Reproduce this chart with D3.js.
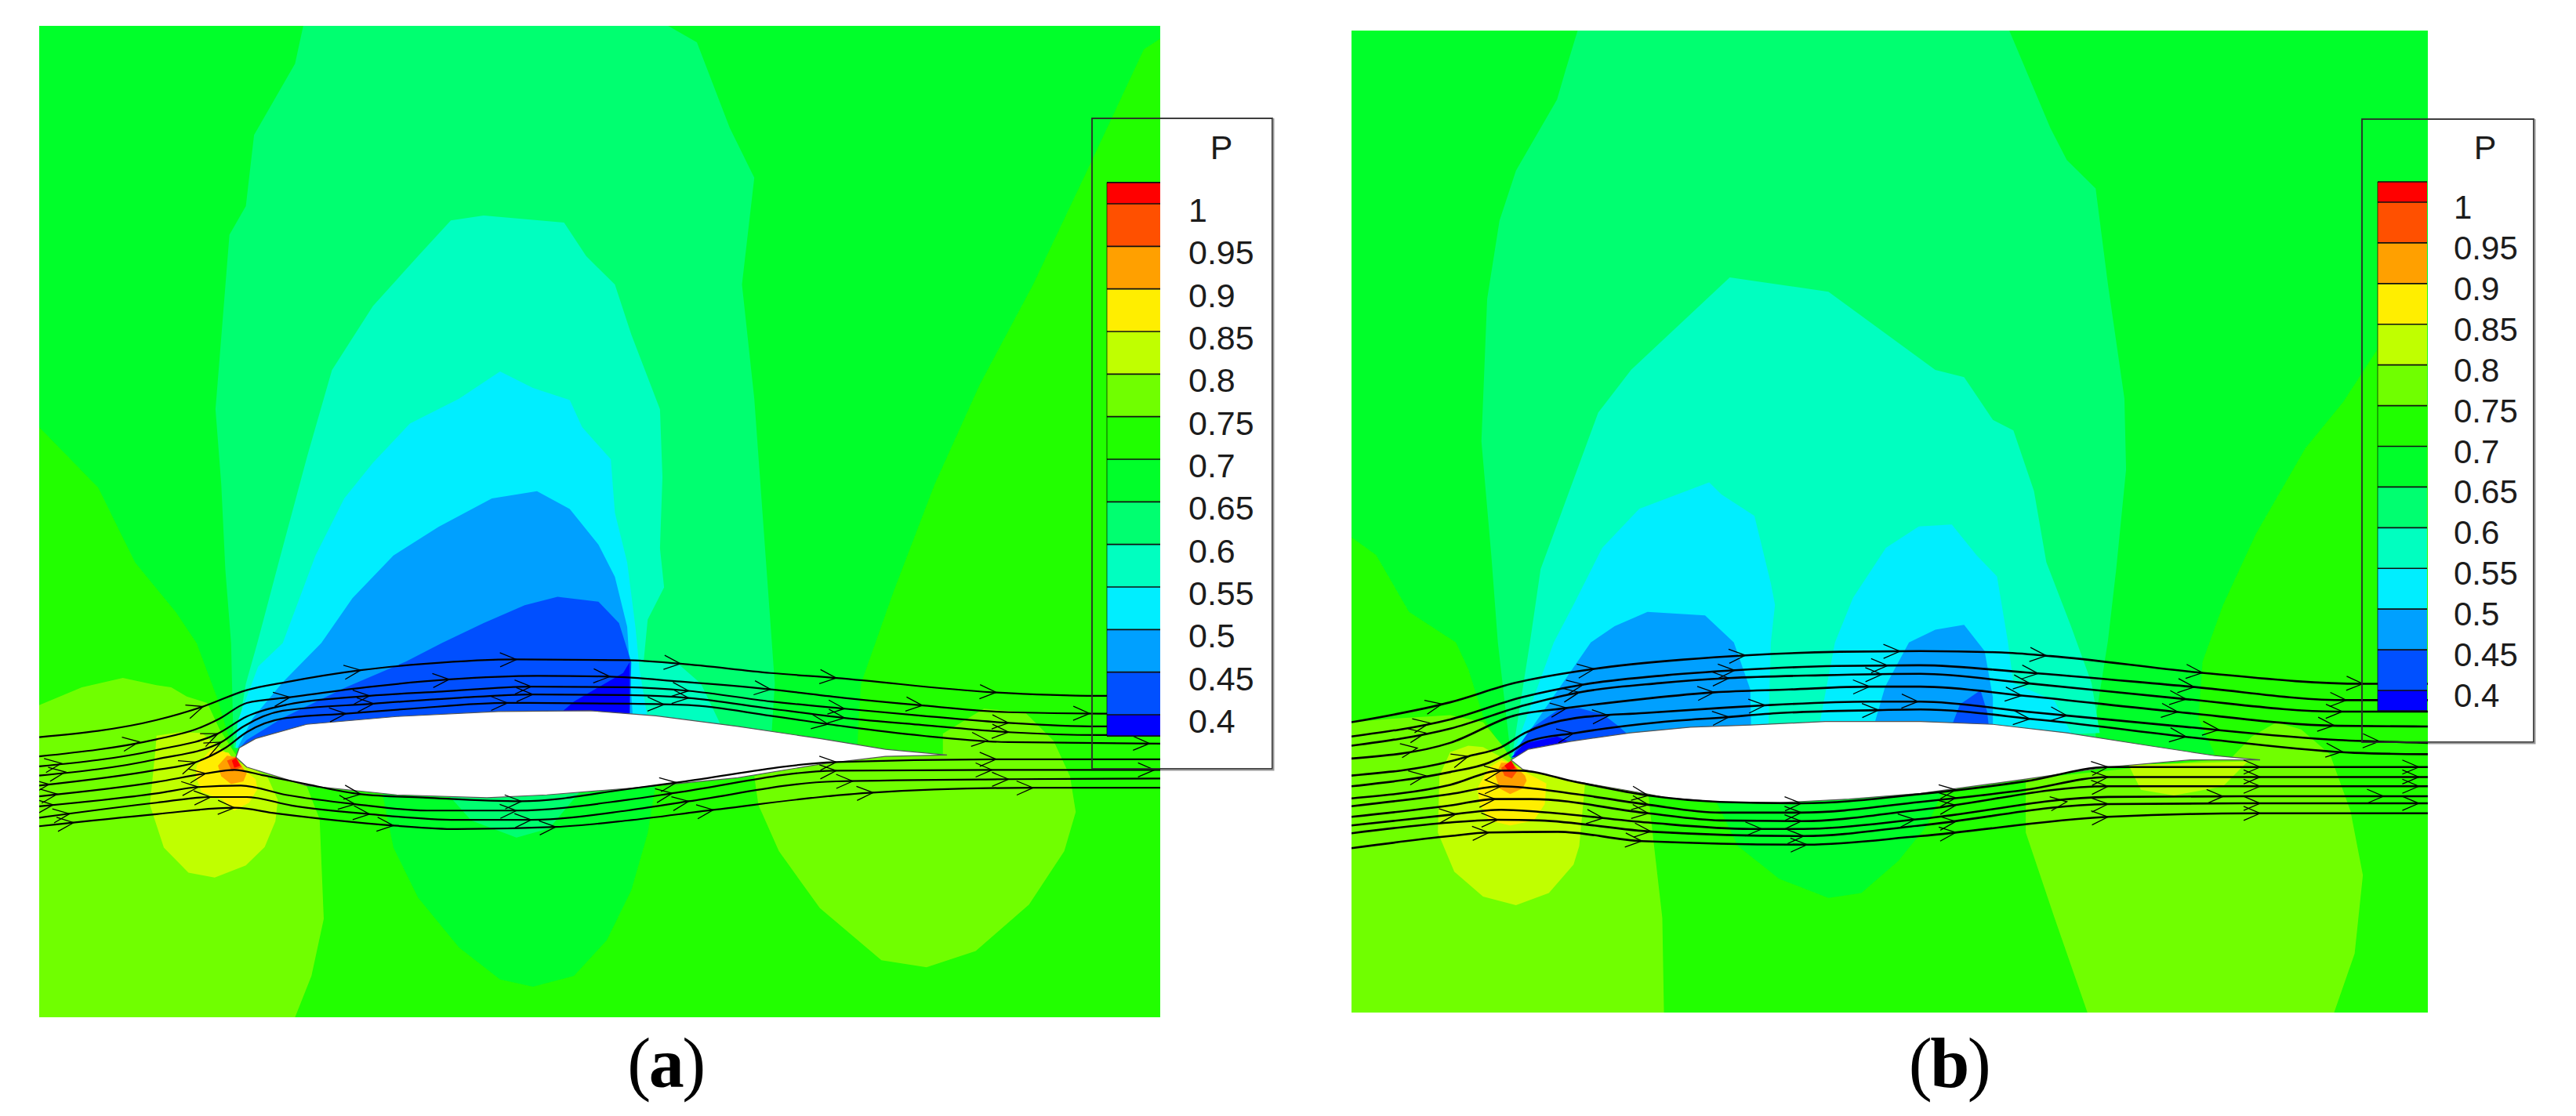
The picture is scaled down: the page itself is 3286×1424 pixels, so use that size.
<!DOCTYPE html>
<html lang="en">
<head>
  <meta charset="UTF-8">
  <title>Pressure contours and streamlines</title>
  <style>
    html, body { margin: 0; padding: 0; background: #fff; }
    svg { display: block; }
    .legend-text { font-family: "Liberation Sans", Arial, sans-serif; fill: #1c1c1c; }
    .caption { font-family: "Liberation Serif", "Times New Roman", serif; fill: #000; letter-spacing: -2.5px; }
  </style>
</head>
<body>
  <div id="chart"></div>
  <script src="https://d3js.org/d3.v7.min.js"></script>
  <script>
    // pressure levels on the legend and the colour of the band below each one
    const levels = [0.4, 0.45, 0.5, 0.55, 0.6, 0.65, 0.7, 0.75, 0.8, 0.85, 0.9, 0.95, 1];
    const levelLabels = ["0.4", "0.45", "0.5", "0.55", "0.6", "0.65", "0.7", "0.75", "0.8", "0.85", "0.9", "0.95", "1"];
    const bandColors = ["#0000ff", "#0050ff", "#00a0ff", "#00eeff", "#00ffc0", "#00ff70", "#00ff2a",
                        "#20ff00", "#70ff00", "#c0ff00", "#ffee00", "#ffa000", "#ff5000", "#ff0000"];
    const legendEnds = [0.375, 1.025];

    // contour regions, painted in this order: [pressure, [x, y], ...]
    // x and y are in the plot units of each panel (see panels below)
    const contoursA = [
      [0.675, [48,37],[48,600],[120,685],[165,790],[215,860],[240,903],[265,980],[283,1050],[300,1070],[1045,1060],[1050,960],[1090,830],[1140,680],[1195,540],[1260,400],[1330,230],[1395,70],[1415,55],[1415,37]],
      [0.675, [465,1105],[480,1190],[510,1260],[560,1330],[610,1375],[650,1385],[700,1370],[740,1320],[770,1250],[790,1170],[800,1100]],
      [0.625, [370,37],[360,90],[310,190],[300,290],[280,330],[263,575],[270,680],[275,800],[282,903],[285,1050],[940,1050],[945,960],[935,800],[920,560],[905,400],[920,250],[890,180],[850,60],[815,37]],
      [0.625, [546,1115],[575,1152],[630,1176],[670,1163],[707,1112]],
      [0.575, [287,1050],[300,960],[314,903],[340,790],[375,640],[405,520],[455,430],[510,360],[550,310],[590,303],[688,313],[715,360],[750,400],[770,470],[805,575],[808,670],[805,770],[810,825],[790,870],[785,930],[825,930],[855,960],[880,1020],[700,1040]],
      [0.525, [288,1050],[290,1013],[315,936],[345,903],[385,780],[420,700],[455,650],[500,595],[560,560],[610,522],[650,545],[695,562],[710,600],[745,645],[750,720],[765,790],[775,880],[780,940],[790,1010],[700,1040]],
      [0.475, [290,1050],[308,1009],[345,958],[392,903],[430,840],[480,780],[535,740],[600,700],[655,690],[695,715],[730,765],[750,810],[765,880],[772,1010],[700,1040]],
      [0.425, [291,1052],[301,1039],[345,1008],[422,965],[495,929],[539,903],[590,875],[640,850],[680,838],[730,845],[755,875],[770,930],[768,1010],[500,1040]],
      [0.39, [680,1005],[700,985],[760,945],[768,930],[768,1005]],
      [0.775, [48,990],[100,965],[150,952],[191,962],[209,965],[228,978],[253,987],[268,1024],[286,1057],[301,1077],[374,1103],[390,1150],[395,1290],[380,1370],[360,1428],[48,1428]],
      [0.775, [920,1090],[1020,1065],[1150,1060],[1150,1030],[1200,995],[1250,1000],[1285,1040],[1305,1090],[1312,1140],[1298,1195],[1255,1270],[1190,1335],[1130,1358],[1075,1348],[1000,1275],[950,1195],[925,1130]],
      [0.825, [190,1050],[191,1033],[220,1028],[246,1029],[264,1046],[288,1068],[326,1090],[339,1123],[336,1153],[323,1189],[300,1215],[262,1232],[230,1225],[200,1190],[183,1130]],
      [0.875, [240,1075],[257,1053],[279,1057],[288,1072],[312,1094],[314,1108],[304,1127],[286,1138],[272,1123],[246,1112],[239,1090]],
      [0.925, [266,1075],[277,1061],[288,1063],[301,1086],[297,1097],[282,1101],[270,1090]],
      [0.975, [277,1068],[288,1063],[295,1077],[283,1083]],
      [1.01, [283,1068],[288,1064],[293,1075],[286,1078]]
    ];
    const contoursB = [
      [0.675, [80,43],[80,755],[110,780],[150,860],[207,903],[222,940],[240,1006],[262,1050],[275,1068],[1130,1060],[1110,1010],[1115,930],[1140,850],[1180,750],[1240,630],[1286,565],[1327,492],[1389,400],[1389,43]],
      [0.675, [521,1120],[550,1189],[600,1235],[660,1262],[700,1255],[745,1210],[780,1160],[800,1110]],
      [0.625, [355,43],[340,100],[330,140],[280,240],[260,310],[245,420],[238,620],[250,780],[258,903],[274,1065],[985,1040],[985,1010],[1000,900],[1010,800],[1022,660],[1020,560],[1000,400],[985,265],[950,225],[930,180],[880,43]],
      [0.575, [275,1065],[297,903],[310,800],[380,580],[420,520],[540,390],[660,410],[790,520],[825,530],[860,590],[885,605],[910,690],[925,790],[955,880],[980,960],[990,1030]],
      [0.525, [276,1062],[326,903],[350,850],[385,770],[430,715],[515,678],[530,695],[570,725],[590,820],[595,850],[590,903],[587,1025]],
      [0.525, [648,1025],[668,903],[690,840],[730,770],[770,740],[810,737],[840,780],[865,810],[878,900],[885,960],[935,985],[955,1030]],
      [0.475, [277,1060],[371,903],[400,880],[440,860],[510,865],[545,903],[565,969],[566,1025]],
      [0.475, [714,1025],[729,965],[758,903],[790,885],[825,878],[850,915],[860,980],[860,1025]],
      [0.425, [277,1059],[298,1024],[331,998],[357,995],[386,1004],[404,1020],[419,1035]],
      [0.425, [810,1020],[820,990],[845,970],[853,1000],[855,1020]],
      [0.39, [274,1065],[290,1045],[330,1035],[350,1045]],
      [0.775, [80,1015],[130,1010],[200,1005],[240,1015],[265,1050],[275,1068],[346,1097],[441,1116],[448,1189],[458,1290],[460,1423],[80,1423]],
      [0.775, [900,1095],[900,1170],[935,1290],[975,1423],[1275,1423],[1300,1340],[1310,1230],[1295,1140],[1270,1060],[1235,1025],[1205,1015],[1175,1035],[1150,1065]],
      [0.825, [187,1090],[200,1057],[222,1048],[240,1050],[262,1064],[277,1075],[364,1101],[357,1189],[350,1215],[320,1255],[280,1272],[240,1260],[205,1225],[185,1170]],
      [0.825, [1025,1075],[1040,1110],[1080,1118],[1140,1105],[1170,1070]],
      [0.875, [233,1108],[247,1079],[262,1068],[277,1075],[288,1083],[317,1101],[315,1130],[302,1153],[273,1160],[247,1153],[236,1130]],
      [0.925, [255,1090],[262,1072],[275,1072],[291,1090],[293,1097],[288,1108],[273,1116],[260,1108]],
      [0.975, [262,1079],[275,1070],[282,1083],[275,1094],[266,1090]],
      [1.01, [266,1076],[274,1069],[279,1080],[270,1082]]
    ];

    // airfoil outlines
    const airfoilA = [[288,1063],[292,1050],[312,1037],[374,1017],[484,1006],[608,999],[720,998],[800,1005],[900,1020],[1000,1037],[1080,1052],[1155,1060],
                      [1080,1062],[1000,1073],[900,1092],[765,1107],[667,1116],[594,1120],[484,1116],[374,1103],[301,1077]];
    const airfoilB = [[274,1068],[295,1053],[346,1042],[419,1030],[492,1022],[565,1019],[656,1014],[772,1014],[860,1018],[950,1030],[1050,1048],[1130,1062],[1185,1068],
                      [1100,1068],[1000,1078],[900,1095],[772,1115],[685,1123],[601,1128],[528,1127],[462,1121],[441,1116],[346,1097],[288,1081]];

    // streamlines
    const streamA = [
      [[48,1035],[191,1011],[248,992],[301,969],[348,958],[440,941],[520,932],[630,926],[765,927],[830,932],[940,945],[1020,952],[1210,972],[1340,977],[1415,977]],
      [[48,1062],[191,1038],[239,1024],[268,1009],[301,987],[354,979],[447,965],[548,954],[656,949],[744,950],[830,957],[940,968],[1030,980],[1120,990],[1230,1000],[1340,1002],[1415,1002]],
      [[48,1076],[191,1053],[266,1030],[301,1006],[352,989],[451,977],[539,971],[648,964],[765,965],[840,970],[940,985],[1030,995],[1125,1005],[1230,1015],[1340,1020],[1415,1020]],
      [[48,1089],[191,1066],[270,1042],[297,1020],[345,998],[456,988],[557,980],[650,975],[765,976],[840,980],[940,995],[1030,1008],[1125,1018],[1230,1028],[1340,1032],[1415,1032]],
      [[48,1103],[191,1081],[239,1070],[275,1050],[301,1028],[345,1009],[422,1002],[502,995],[619,987],[765,988],[840,990],[940,1005],[1030,1020],[1125,1033],[1230,1042],[1415,1044]],
      [[48,1118],[191,1098],[251,1086],[286,1081],[319,1088],[374,1101],[440,1115],[520,1120],[636,1125],[765,1108],[830,1098],[1020,1070],[1210,1066],[1415,1066]],
      [[48,1132],[191,1114],[242,1105],[294,1103],[349,1116],[433,1129],[521,1138],[630,1138],[765,1123],[830,1112],[1020,1082],[1210,1081],[1415,1081]],
      [[48,1148],[191,1127],[257,1119],[301,1119],[356,1131],[451,1143],[557,1151],[648,1151],[765,1138],[840,1125],[1020,1097],[1230,1094],[1415,1093]],
      [[48,1160],[191,1143],[286,1134],[337,1142],[480,1159],[557,1164],[678,1161],[765,1152],[870,1137],[1060,1113],[1260,1106],[1415,1106]]
    ];
    const arrowsA = [
      [248,440,630,830,1020,1215],
      [170,354,548,744,940,1125,1329],
      [75,266,451,648,840,1030,1230],
      [80,270,456,650,840,1030,1230],
      [60,239,422,619,810,1010,1205,1402],
      [70,251,440,636,825,1020,1215],
      [65,242,433,630,820,1020,1210,1408],
      [85,257,451,648,840,1040,1230],
      [90,286,480,678,870,1065,1260]
    ];
    const streamB = [
      [[80,1015],[200,987],[278,960],[375,940],[484,927],[559,921],[674,916],[772,915],[870,917],[930,922],[1110,945],[1310,961],[1389,961]],
      [[80,1035],[200,1011],[287,980],[362,962],[462,949],[546,942],[670,936],[772,935],[900,945],[1100,965],[1290,984],[1389,984]],
      [[80,1048],[200,1024],[291,991],[357,973],[455,960],[539,953],[652,949],[772,947],[900,960],[1090,982],[1280,1000],[1389,1000]],
      [[80,1066],[200,1044],[277,1006],[342,995],[437,982],[521,973],[612,969],[710,965],[772,965],[900,978],[1080,1000],[1280,1020],[1389,1021]],
      [[80,1090],[200,1070],[222,1063],[262,1050],[291,1030],[353,1009],[437,1002],[528,995],[586,991],[710,986],[772,986],[900,1000],[1080,1020],[1280,1040],[1389,1044]],
      [[80,1105],[200,1085],[247,1072],[273,1057],[295,1042],[353,1030],[455,1015],[535,1008],[601,1002],[721,998],[772,997],[920,1012],[1130,1040],[1300,1058],[1389,1060]],
      [[80,1122],[200,1103],[262,1083],[284,1083],[353,1099],[441,1118],[528,1127],[627,1129],[772,1116],[900,1098],[1000,1078],[1180,1078],[1389,1078]],
      [[80,1133],[200,1116],[262,1105],[353,1116],[441,1131],[528,1142],[627,1142],[772,1127],[900,1110],[1000,1092],[1180,1092],[1389,1092]],
      [[80,1148],[200,1132],[255,1123],[298,1123],[441,1143],[528,1153],[627,1154],[772,1138],[1000,1105],[1180,1105],[1389,1105]],
      [[80,1160],[200,1145],[262,1138],[309,1141],[441,1156],[565,1165],[630,1165],[772,1151],[1000,1120],[1180,1119],[1389,1119]],
      [[80,1171],[200,1156],[258,1152],[309,1153],[448,1169],[630,1175],[772,1160],[1000,1130],[1180,1129],[1389,1129]],
      [[80,1192],[200,1175],[247,1170],[331,1169],[433,1182],[634,1187],[772,1175],[1000,1148],[1180,1143],[1389,1143]]
    ];
    const arrowsB = [
      [190,375,559,747,925,1115,1310],
      [175,362,546,732,915,1105,1290],
      [170,357,539,725,905,1095,1285],
      [160,342,521,710,895,1085,1275],
      [222,393,583,769,950,1135,1330],
      [170,350,539,721,905,1095,1285],
      [262,441,627,815,1000,1185,1378],
      [262,441,627,815,1000,1185,1378],
      [255,441,627,815,1000,1185,1378],
      [207,386,579,765,950,1140,1335],
      [258,444,630,815,1000,1185,1378],
      [247,433,634,815,1000,1185]
    ];

    // panel layout in page pixels, plot units in the domains
    const panels = [
      { contours: contoursA, airfoil: airfoilA, stream: streamA, arrows: arrowsA, caption: "a",
        xDomain: [48, 1415], yDomain: [37, 1428], xRange: [50, 1480], yRange: [33, 1298],
        frame: [1393, 151, 1623, 981], bar: [1412, 1480], legendRange: [260, 912],
        labelX: 1516, labelDy: 23, titleX: 1558, titleY: 203, captionX: 849, lineWidth: 2.2 },
      { contours: contoursB, airfoil: airfoilB, stream: streamB, arrows: arrowsB, caption: "b",
        xDomain: [80, 1389], yDomain: [43, 1423], xRange: [1724, 3097], yRange: [39, 1292],
        frame: [3013, 152, 3232, 947], bar: [3033, 3096], legendRange: [258, 881],
        labelX: 3130, labelDy: 21, titleX: 3170, titleY: 203, captionX: 2486, lineWidth: 2.6 }
    ];

    const width = 3286, height = 1424;
    const svg = d3.select("#chart").append("svg")
                  .attr("width", width)
                  .attr("height", height);

    // the source picture is a little soft, so the plot gets a slight blur
    svg.append("filter").attr("id", "soft")
       .attr("x", 0).attr("y", 0).attr("width", 1).attr("height", 1)
       .append("feGaussianBlur").attr("stdDeviation", 0.7);

    const color = d3.scaleThreshold().domain(levels).range(bandColors);

    panels.forEach((panel, i) => {
      const x = d3.scaleLinear().domain(panel.xDomain).range(panel.xRange);
      const y = d3.scaleLinear().domain(panel.yDomain).range(panel.yRange);
      const line = d3.line().x(d => x(d[0])).y(d => y(d[1]));
      const smooth = d3.line().x(d => x(d[0])).y(d => y(d[1])).curve(d3.curveMonotoneX);

      const g = svg.append("g");
      g.append("clipPath").attr("id", "plot" + i)
       .append("rect")
       .attr("x", panel.xRange[0]).attr("y", panel.yRange[0])
       .attr("width", panel.xRange[1] - panel.xRange[0])
       .attr("height", panel.yRange[1] - panel.yRange[0]);

      const plot = g.append("g").attr("clip-path", `url(#plot${i})`)
                    .append("g").attr("filter", "url(#soft)");

      // base level, then the contour regions
      plot.append("rect")
          .attr("x", panel.xRange[0]).attr("y", panel.yRange[0])
          .attr("width", panel.xRange[1] - panel.xRange[0])
          .attr("height", panel.yRange[1] - panel.yRange[0])
          .attr("fill", color(0.725));

      plot.selectAll("path.contour")
          .data(panel.contours)
          .enter()
          .append("path")
          .attr("class", "contour")
          .attr("d", d => line(d.slice(1)) + "Z")
          .attr("fill", d => color(d[0]));

      plot.append("path")
          .attr("d", line(panel.airfoil) + "Z")
          .attr("fill", "#fff")
          .attr("stroke", "#555")
          .attr("stroke-width", 1.2);

      plot.selectAll("path.stream")
          .data(panel.stream)
          .enter()
          .append("path")
          .attr("class", "stream")
          .attr("d", smooth)
          .attr("fill", "none")
          .attr("stroke", "#000")
          .attr("stroke-width", panel.lineWidth);

      // open chevrons sitting on the streamlines
      panel.stream.forEach((pts, k) => {
        const yAt = d3.scaleLinear().domain(pts.map(d => d[0])).range(pts.map(d => d[1]));
        panel.arrows[k].forEach(ax => {
          const angle = Math.atan2(y(yAt(ax + 8)) - y(yAt(ax - 8)), x(ax + 8) - x(ax - 8)) * 180 / Math.PI;
          plot.append("path")
              .attr("d", "M-21,-9L0,0L-21,9")
              .attr("transform", `translate(${x(ax)},${y(yAt(ax))}) rotate(${angle})`)
              .attr("fill", "none")
              .attr("stroke", "#000")
              .attr("stroke-width", 1.3);
        });
      });

      // legend: frame, colour bar, labels
      const [fx0, fy0, fx1, fy1] = panel.frame;
      const legendY = d3.scaleLinear().domain([1, 0.4]).range(panel.legendRange);
      const edges = [legendEnds[0], ...levels, legendEnds[1]];

      g.selectAll("rect.band")
       .data(bandColors)
       .enter()
       .append("rect")
       .attr("class", "band")
       .attr("x", panel.bar[0])
       .attr("width", panel.bar[1] - panel.bar[0])
       .attr("y", (d, j) => legendY(edges[j + 1]))
       .attr("height", (d, j) => legendY(edges[j]) - legendY(edges[j + 1]))
       .attr("fill", d => d);

      g.selectAll("line.edge")
       .data(edges)
       .enter()
       .append("line")
       .attr("class", "edge")
       .attr("x1", panel.bar[0]).attr("x2", panel.bar[1])
       .attr("y1", d => legendY(d)).attr("y2", d => legendY(d))
       .attr("stroke", "#111")
       .attr("stroke-width", 1.6);

      g.append("line")
       .attr("x1", panel.bar[0]).attr("x2", panel.bar[0])
       .attr("y1", legendY(legendEnds[1])).attr("y2", legendY(legendEnds[0]))
       .attr("stroke", "#000").attr("stroke-opacity", 0.45).attr("stroke-width", 1.5);

      g.selectAll("text.tick")
       .data(levelLabels)
       .enter()
       .append("text")
       .attr("class", "legend-text tick")
       .attr("x", panel.labelX)
       .attr("y", (d, j) => legendY(levels[j]) + panel.labelDy)
       .attr("font-size", i === 0 ? 43 : 42)
       .text(d => d);

      g.append("text")
       .attr("class", "legend-text")
       .attr("x", panel.titleX).attr("y", panel.titleY)
       .attr("text-anchor", "middle")
       .attr("font-size", 43)
       .text("P");

      g.append("rect")
       .attr("x", fx0).attr("y", fy0)
       .attr("width", fx1 - fx0).attr("height", fy1 - fy0)
       .attr("fill", "none")
       .attr("stroke", "#2a2a2a")
       .attr("stroke-width", 1.8);
      g.append("path")
       .attr("d", `M${fx1 + 1.5},${fy0}V${fy1 + 1.5}H${panel.xRange[1]}`)
       .attr("fill", "none")
       .attr("stroke", "#999")
       .attr("stroke-width", 2);

      // panel caption
      const cap = svg.append("text")
                     .attr("class", "caption")
                     .attr("x", panel.captionX).attr("y", 1387)
                     .attr("text-anchor", "middle")
                     .attr("font-size", 90);
      cap.append("tspan").text("(");
      cap.append("tspan").attr("font-weight", "bold").text(panel.caption);
      cap.append("tspan").text(")");
    });
  </script>
</body>
</html>
